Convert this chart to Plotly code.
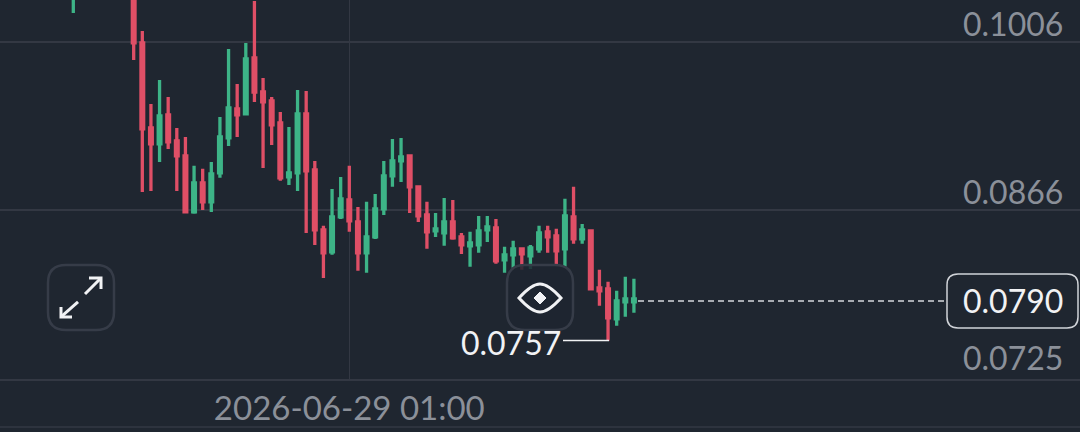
import pandas as pd
import plotly.graph_objects as go

W, H, AXIS_Y = 1080, 432, 379
BG = "#1f2630"
GRID = "#333843"
MUTED = "#8b9099"
WHITE = "#f1f2f4"
RED = "#df4f66"
GREEN = "#3db487"
FONT = "Lato"

times = pd.date_range("2026-06-28 17:00", periods=66, freq="15min")
opens = [0.10477, None, None, None, None, None, None, 0.10493, 0.10052, 0.09343, 0.09210, 0.09452, 0.09235, 0.09110, 0.08643, 0.08885, 0.08727, 0.08968, 0.09260, 0.09502, 0.09460, 0.09927, 0.09643, 0.09568, 0.09385, 0.08935, 0.08968, 0.09460, 0.08993, 0.08493, 0.08310, 0.08602, 0.08743, 0.08560, 0.08302, 0.08435, 0.08668, 0.08943, 0.09068, 0.09110, 0.08852, 0.08618, 0.08485, 0.08468, 0.08560, 0.08435, 0.08360, 0.08368, 0.08493, 0.08510, 0.08243, 0.08285, 0.08335, 0.08277, 0.08335, 0.08477, 0.08443, 0.08335, 0.08602, 0.08418, 0.08485, 0.08010, 0.08002, 0.07752, 0.07893, 0.07893]
highs = [0.10618, None, None, None, None, None, None, 0.10527, 0.10152, 0.09543, 0.09743, 0.09602, 0.09343, 0.09268, 0.09027, 0.09002, 0.09060, 0.09435, 0.10002, 0.09710, 0.10052, 0.10402, 0.09760, 0.09602, 0.09477, 0.09352, 0.09660, 0.09652, 0.09068, 0.08527, 0.08835, 0.08935, 0.09027, 0.08685, 0.08727, 0.08793, 0.09068, 0.09252, 0.09260, 0.09110, 0.08860, 0.08727, 0.08635, 0.08760, 0.08743, 0.08468, 0.08477, 0.08610, 0.08610, 0.08585, 0.08352, 0.08402, 0.08343, 0.08368, 0.08527, 0.08527, 0.08502, 0.08752, 0.08852, 0.08543, 0.08493, 0.08160, 0.08060, 0.07985, 0.08102, 0.08085]
lows = [0.10302, None, None, None, None, None, None, 0.09910, 0.08810, 0.08818, 0.09060, 0.09168, 0.08818, 0.08635, 0.08627, 0.08660, 0.08643, 0.08927, 0.09193, 0.09268, 0.09452, 0.09560, 0.09010, 0.09202, 0.08902, 0.08868, 0.08818, 0.08468, 0.08368, 0.08093, 0.08285, 0.08585, 0.08477, 0.08152, 0.08135, 0.08418, 0.08618, 0.08852, 0.08893, 0.08635, 0.08560, 0.08335, 0.08435, 0.08360, 0.08410, 0.08293, 0.08185, 0.08302, 0.08393, 0.08210, 0.08135, 0.08177, 0.08160, 0.08168, 0.08302, 0.08302, 0.08202, 0.08185, 0.08377, 0.08377, 0.07993, 0.07860, 0.07568, 0.07693, 0.07768, 0.07802]
closes = [0.10577, None, None, None, None, None, None, 0.10052, 0.09335, 0.09210, 0.09443, 0.09227, 0.09110, 0.08643, 0.08885, 0.08727, 0.08960, 0.09268, 0.09510, 0.09452, 0.09918, 0.09643, 0.09560, 0.09368, 0.08927, 0.08968, 0.09460, 0.08985, 0.08493, 0.08302, 0.08602, 0.08752, 0.08568, 0.08302, 0.08435, 0.08668, 0.08943, 0.09068, 0.09102, 0.08852, 0.08610, 0.08477, 0.08502, 0.08560, 0.08427, 0.08368, 0.08385, 0.08485, 0.08518, 0.08235, 0.08285, 0.08335, 0.08293, 0.08343, 0.08468, 0.08435, 0.08318, 0.08610, 0.08418, 0.08493, 0.08002, 0.07985, 0.07760, 0.07902, 0.07918, 0.07918]

y_ticks = [0.1006, 0.0866, 0.0725]
y_labels = ["0.1006", "0.0866", "0.0725"]
x_tick = "2026-06-29 01:00"
last_price = 0.0790
low_price = 0.0757
low_label = "0.0757"
last_label = "0.0790"


def px(x):
    return x / W


def py(y):
    return (AXIS_Y - y) / AXIS_Y


def pt(x, y):
    return f"{px(x):.5f},{py(y):.5f}"


def round_rect(x0, y0, x1, y1, r):
    return (
        f"M{pt(x0 + r, y0)} L{pt(x1 - r, y0)} Q{pt(x1, y0)} {pt(x1, y0 + r)} "
        f"L{pt(x1, y1 - r)} Q{pt(x1, y1)} {pt(x1 - r, y1)} "
        f"L{pt(x0 + r, y1)} Q{pt(x0, y1)} {pt(x0, y1 - r)} "
        f"L{pt(x0, y0 + r)} Q{pt(x0, y0)} {pt(x0 + r, y0)} Z"
    )


def poly(points):
    return "M" + " L".join(pt(x, y) for x, y in points)


def path_shape(path, color, width, fill="rgba(0,0,0,0)"):
    return dict(type="path", xref="paper", yref="paper", path=path, line=dict(color=color, width=width),
                fillcolor=fill, layer="above")


shapes = [
    # lower frame line
    dict(type="line", xref="paper", yref="paper", x0=0, x1=1, y0=py(427), y1=py(427),
         line=dict(color=GRID, width=1.5), layer="below"),
    # expand button
    path_shape(round_rect(48, 265, 114, 330, 18), "#363c48", 2.5, BG),
    path_shape(poly([(61, 317), (78, 302)]), WHITE, 3),
    path_shape(poly([(61, 307), (61, 317), (72, 317)]), WHITE, 3),
    path_shape(poly([(85, 294), (101, 278)]), WHITE, 3),
    path_shape(poly([(89, 278), (101, 278), (101, 289)]), WHITE, 3),
    # eye button
    path_shape(round_rect(507, 265, 573, 330, 18), "#363c48", 2.5, "rgba(31,38,48,0.85)"),
    path_shape(
        f"M{pt(519, 298)} C{pt(528, 288)} {pt(534, 284)} {pt(540, 284)} C{pt(546, 284)} {pt(552, 288)} {pt(561, 298)} "
        f"C{pt(552, 308)} {pt(546, 312)} {pt(540, 312)} C{pt(534, 312)} {pt(528, 308)} {pt(519, 298)} Z", WHITE, 3),
    path_shape(poly([(540, 292), (546, 298), (540, 304), (534, 298)]) + " Z", WHITE, 1, WHITE),
    # low marker
    dict(type="line", xref="paper", yref="y", x0=px(563), x1=px(609), y0=low_price, y1=low_price,
         line=dict(color=WHITE, width=1.5), layer="above"),
    # last price dashed line and box
    dict(type="line", xref="paper", yref="y", x0=px(638), x1=px(946), y0=last_price, y1=last_price,
         line=dict(color="#d5d7db", width=1.5, dash="6px,4px"), layer="above"),
    path_shape(round_rect(947, 274, 1078, 328, 11), "#d0d3d8", 1.5, BG),
]


def label(text, x, y, color, anchor="right"):
    return dict(text=text, xref="paper", yref="paper", x=px(x), y=py(y), xanchor=anchor, yanchor="middle",
                showarrow=False, font=dict(family=FONT, size=32, color=color))


annotations = [
    label(y_labels[0], 1065, 23.5, MUTED),
    label(y_labels[1], 1065, 191.5, MUTED),
    label(y_labels[2], 1065, 357.5, MUTED),
    label(last_label, 1065, 300, WHITE),
    label(low_label, 563, 342, WHITE),
]

fig = go.Figure(
    go.Candlestick(
        x=times, open=opens, high=highs, low=lows, close=closes,
        increasing=dict(line=dict(color=GREEN, width=3.3), fillcolor=GREEN),
        decreasing=dict(line=dict(color=RED, width=3.3), fillcolor=RED),
        whiskerwidth=0, showlegend=False,
    )
)
fig.update_layout(
    width=W, height=H, autosize=False,
    margin=dict(l=0, r=0, t=0, b=H - AXIS_Y, pad=0),
    paper_bgcolor=BG, plot_bgcolor=BG,
    boxgap=0.55,
    shapes=shapes, annotations=annotations,
    xaxis=dict(
        type="date", range=["2026-06-28 14:52:30", "2026-06-29 22:10:48"], rangeslider=dict(visible=False),
        tickvals=[x_tick], ticktext=[x_tick], tickfont=dict(family=FONT, size=33, color=MUTED),
        showgrid=True, gridcolor=GRID, gridwidth=1.2, ticks="", zeroline=False,
        showline=True, linecolor=GRID, linewidth=1.5, automargin=False,
    ),
    yaxis=dict(
        range=[0.0725, 0.1041], tickvals=y_ticks, showticklabels=False, showgrid=True,
        gridcolor=GRID, gridwidth=1.5, zeroline=False, ticks="", automargin=False,
    ),
)
fig.write_html(
    "out.html",
    config=dict(displayModeBar=False),
    post_script="document.body.style.margin='0';document.body.style.background='#1f2630';",
)
